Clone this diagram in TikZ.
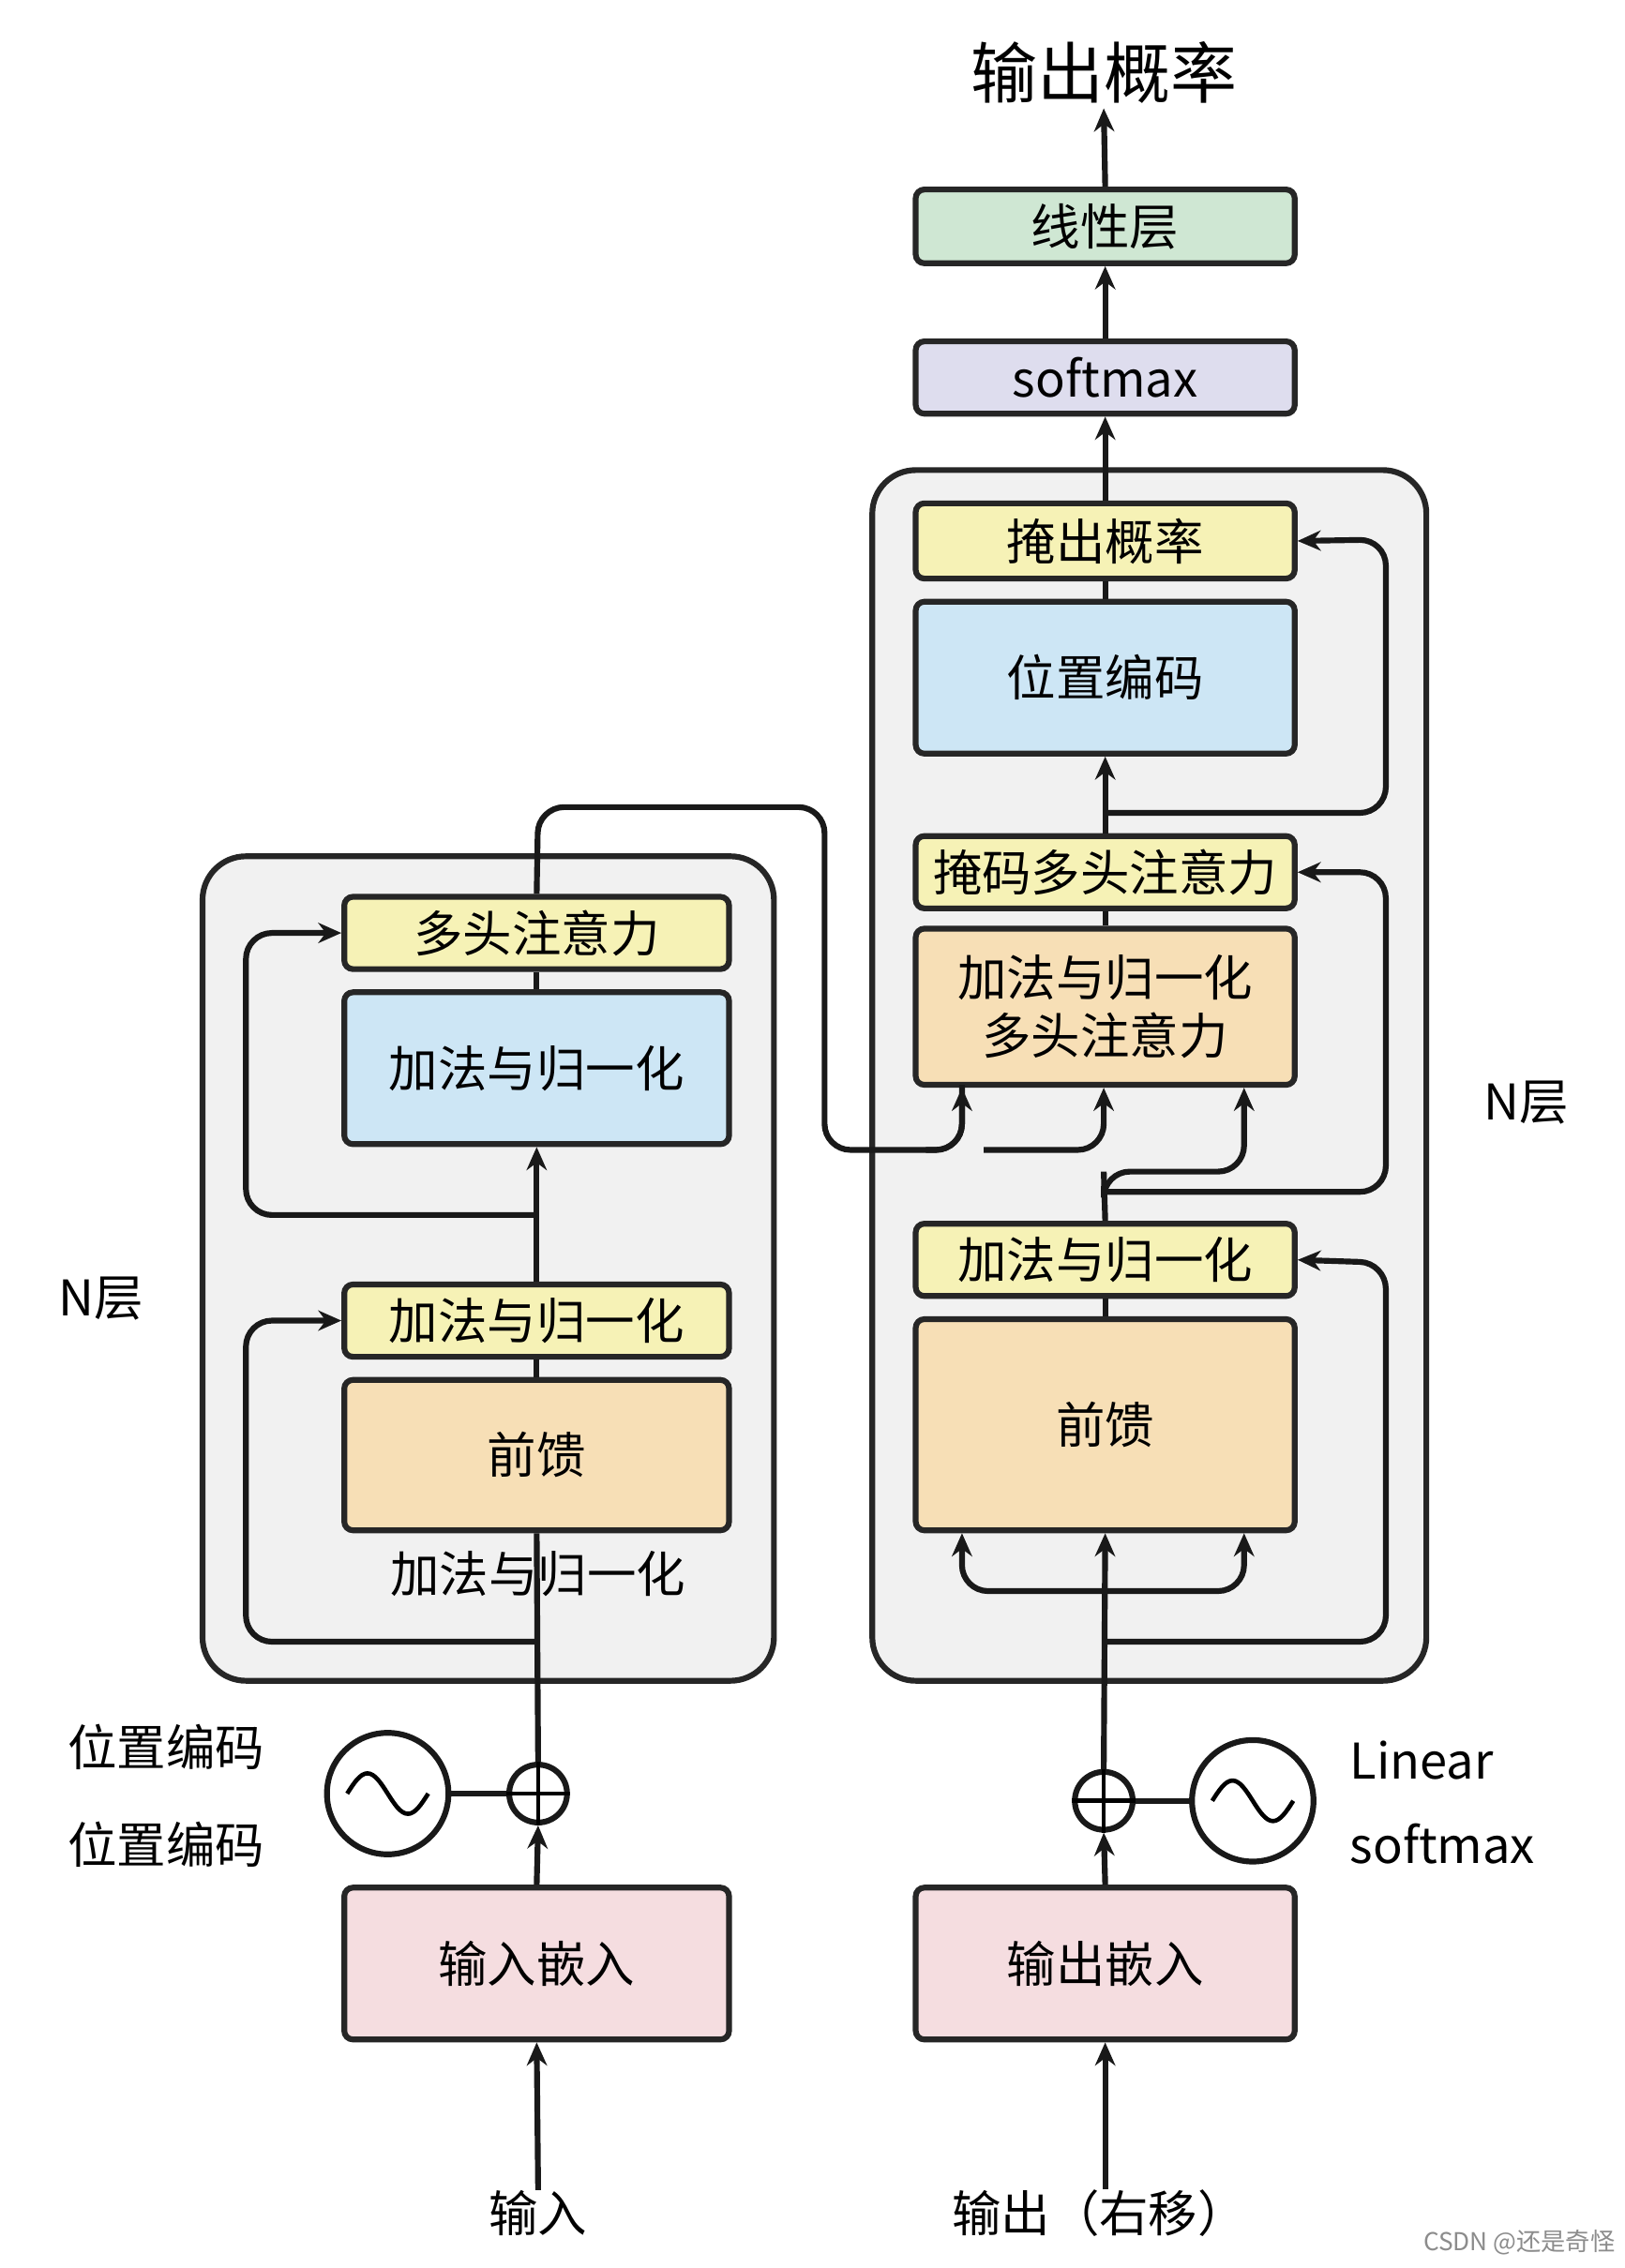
\documentclass[tikz,border=0pt]{standalone}
\usepackage{fontspec}
\setmainfont{Noto Sans CJK SC}
\usetikzlibrary{arrows.meta}
\definecolor{cyel}{HTML}{F6F2B6}
\definecolor{cblue}{HTML}{CDE6F5}
\definecolor{corg}{HTML}{F7DFB6}
\definecolor{cpink}{HTML}{F5DDE0}
\definecolor{cgreen}{HTML}{CFE7D3}
\definecolor{clav}{HTML}{DEDDEE}
\definecolor{cbg}{HTML}{F1F1F1}
\begin{document}
\begin{tikzpicture}[x=1pt,y=-1pt,
  box/.style={draw=black!85,line width=4pt,rounded corners=6pt,minimum width=262pt,inner sep=0pt,align=center,font=\fontsize{34}{44}\selectfont},
  cont/.style={draw=black!85,line width=4pt,rounded corners=30pt,fill=cbg},
  ln/.style={line width=4pt,draw=black!90,rounded corners=18pt},
  ar/.style={ln,-{Stealth[length=16pt,width=14pt]}},
  lbl/.style={font=\fontsize{34}{40}\selectfont,inner sep=0pt}]
\useasboundingbox (0,0) rectangle (1123,1568);
\fill[white] (0,0) rectangle (1123,1568);
% containers
\draw[cont] (140,592) rectangle (535,1162);
\draw[cont] (603,325) rectangle (986,1162);
% top nodes
\node[font=\fontsize{46}{50}\selectfont] (title) at (763,50) {输出概率};
\node[box,fill=cgreen,minimum height=51pt] (lin) at (764,156.5) {线性层};
\node[box,fill=clav,minimum height=50pt] (smx) at (764,261) {softmax};
% decoder
\node[box,fill=cyel,minimum height=52pt] (dmask) at (764,374) {掩出概率};
\node[box,fill=cblue,minimum height=105pt] (dpos) at (764,468.5) {位置编码};
\node[box,fill=cyel,minimum height=50pt] (dmha) at (764,603) {掩码多头注意力};
\node[box,fill=corg,minimum height=108pt] (dadd) at (764,696) {加法与归一化\\[-4pt]多头注意力};
\node[box,fill=cyel,minimum height=50pt] (dnorm) at (764,871) {加法与归一化};
\node[box,fill=corg,minimum height=146pt] (dff) at (764,985) {前馈};
% encoder
\node[box,fill=cyel,minimum height=50pt,minimum width=266pt] (emha) at (371,645) {多头注意力};
\node[box,fill=cblue,minimum height=105pt,minimum width=266pt] (eadd) at (371,738.5) {加法与归一化};
\node[box,fill=cyel,minimum height=50pt,minimum width=266pt] (enorm) at (371,913) {加法与归一化};
\node[box,fill=corg,minimum height=104pt,minimum width=266pt] (eff) at (371,1006) {前馈};
% embeddings
\node[box,fill=cpink,minimum height=105pt,minimum width=266pt] (iemb) at (371,1357.5) {输入嵌入};
\node[box,fill=cpink,minimum height=105pt] (oemb) at (764,1357.5) {输出嵌入};
% labels
\node[lbl] (t1) at (372,1530) {输入};
\node[lbl] (t2) at (760,1530) {输出（右移）};
\node[lbl] (nl) at (70,898) {N层};
\node[lbl] (nr) at (1055,762) {N层};
\node[lbl] (p1) at (115,1208) {位置编码};
\node[lbl] (p2) at (115,1275) {位置编码};
\node[lbl,anchor=west] (l1) at (933,1217) {Linear};
\node[lbl,anchor=west] (l2) at (933,1275) {softmax};
\node[lbl] (eaddtxt) at (372,1088) {加法与归一化};
\node[font=\fontsize{17}{20}\selectfont,text=black!45,anchor=east] (csdn) at (1120,1550) {CSDN @还是奇怪};
% positional circles
\node[circle,draw=black!90,line width=4pt,minimum size=84pt,inner sep=0pt,fill=white] (sl) at (268,1240) {};
\node[circle,draw=black!90,line width=4pt,minimum size=40pt,inner sep=0pt,fill=white] (pl) at (372,1240) {};
\node[circle,draw=black!90,line width=4pt,minimum size=40pt,inner sep=0pt,fill=white] (pr) at (763,1245) {};
\node[circle,draw=black!90,line width=4pt,minimum size=84pt,inner sep=0pt,fill=white] (sr) at (866,1245) {};
\foreach \c in {pl,pr}{\draw[line width=3pt] (\c.west)--(\c.east) (\c.north)--(\c.south);}
\foreach \c in {sl,sr}{\draw[line width=3pt] (\c) ++(-28,0) sin ++(14,-14) cos ++(14,14) sin ++(14,14) cos ++(14,-14);}
\draw[ln] (sl.east)--(pl.west);
\draw[ln] (pr.east)--(sr.west);
% input arrows
\draw[ar] (t1.north)--(iemb.south);
\draw[ar] (t2.north -| oemb.south)--(oemb.south);
\draw[ar] (iemb.north)--(pl.south);
\draw[ar] (oemb.north)--(pr.south);
% encoder flow
\draw[ln] (pl.north)--(eff.south);
\draw[ln] (eff.north)--(enorm.south);
\draw[ar] (enorm.north)--(eadd.south);
\draw[ln] (eadd.north)--(emha.south);
\draw[ar] (372,1135)--(170,1135)--(170,913)--(enorm.west);
\draw[ar] (372,840)--(170,840)--(170,645)--(emha.west);
% encoder to decoder
\coordinate (c1) at (372,558);
\draw[ln] (emha.north)--(c1)--(570,558)--(570,795)--(665,795)--(665,750);
\draw[ar] (640,795)--(665,795)--(665,752);
\draw[ar] (680,795)--(763,795)--(763,752);
% decoder flow
\draw[ar] (pr.north)--(dff.south);
\draw[ar] (763,1100)--(665,1100)--(665,1060);
\draw[ar] (763,1100)--(860,1100)--(860,1060);
\draw[ln] (dff.north)--(dnorm.south);
\draw[ln] (dnorm.north)--(763,810);
\draw[ar] (763,820)--(763,810)--(860,810)--(860,752);
\draw[ar] (763,1135)--(958,1135)--(958,873)--(dnorm.east);
\draw[ar] (763,824)--(958,824)--(958,603)--(dmha.east);
\draw[ln] (dadd.north)--(dmha.south);
\draw[ar] (dmha.north)--(dpos.south);
\draw[ln] (dpos.north)--(dmask.south);
\draw[ar] (763,562)--(958,562)--(958,373)--(dmask.east);
\draw[ar] (dmask.north)--(smx.south);
\draw[ar] (smx.north)--(lin.south);
\draw[ar] (lin.north)--(title.south);
\end{tikzpicture}
\end{document}
